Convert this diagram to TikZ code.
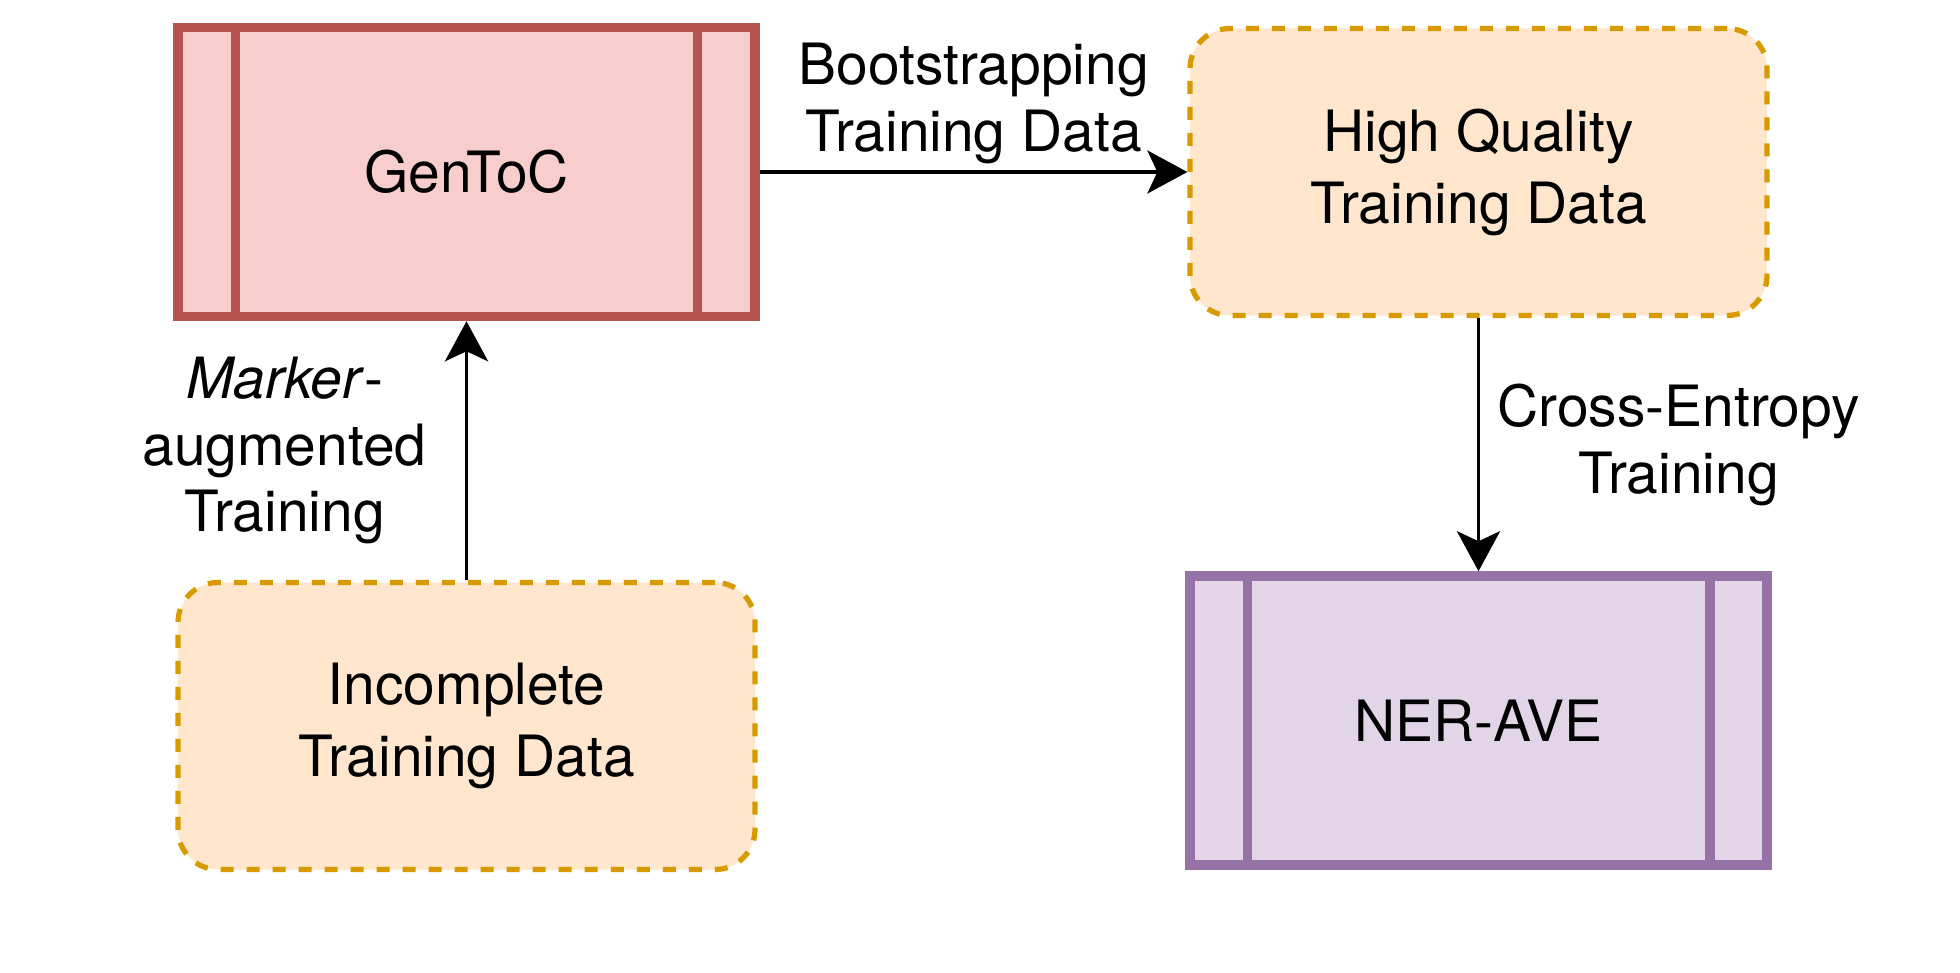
\documentclass[tikz,border=0pt]{standalone}
\usepackage{fontspec}
\setmainfont{TeX Gyre Heros}
\usetikzlibrary{arrows.meta}
\definecolor{genfill}{HTML}{F8CECC}
\definecolor{genline}{HTML}{B85450}
\definecolor{datafill}{HTML}{FFE6CC}
\definecolor{dataline}{HTML}{D79B00}
\definecolor{nerfill}{HTML}{E1D5E7}
\definecolor{nerline}{HTML}{9673A6}
\tikzset{
	procbox/.style={draw=#1line, fill=#1fill, line width=2.7pt, minimum width=5.77cm, minimum height=2.89cm, align=center, font=\fontsize{16.2pt}{20.5pt}\selectfont},
	databox/.style={draw=dataline, fill=datafill, line width=1.5pt, dash pattern=on 3.7pt off 3.7pt, rounded corners=0.4cm, minimum width=5.77cm, minimum height=2.87cm, align=center, font=\fontsize{16.2pt}{20.5pt}\selectfont},
	flow/.style={line width=1.1pt, -{Stealth[length=0.4cm, width=0.43cm, inset=0.1cm]}},
	lbl/.style={align=center, inner sep=0pt, font=\fontsize{16.2pt}{19pt}\selectfont}
}
\begin{document}
\begin{tikzpicture}
		\useasboundingbox (0, 0) rectangle (19.6, 9.72);
		\node [procbox=gen] at (4.665, 8.0) (gentoc) {GenToC};
		\node [databox] at (14.785, 8.0) (hqdata) {High Quality\\Training Data};
		\node [databox] at (4.665, 2.46) (incdata) {Incomplete\\Training Data};
		\node [procbox=ner] at (14.785, 2.515) (nerave) {NER-AVE};
		% side bars of the process boxes
		\foreach \n/\c in {gentoc/genline, nerave/nerline} {
			\draw [\c, line width=2.7pt] ([xshift=0.62cm]\n.north west) -- ([xshift=0.62cm]\n.south west);
			\draw [\c, line width=2.7pt] ([xshift=-0.62cm]\n.north east) -- ([xshift=-0.62cm]\n.south east);
		}
		\draw [flow] (gentoc) -- (hqdata) node [lbl, midway, above=0.06cm] {Bootstrapping\\Training Data};
		\draw [flow] (incdata) -- (gentoc) node [lbl, midway, left=0.38cm] {\textit{Marker}-\\augmented\\Training};
		\draw [flow] (hqdata) -- (nerave) node [lbl, midway, right=0.17cm] {Cross-Entropy\\Training};
	\end{tikzpicture}
\end{document}
